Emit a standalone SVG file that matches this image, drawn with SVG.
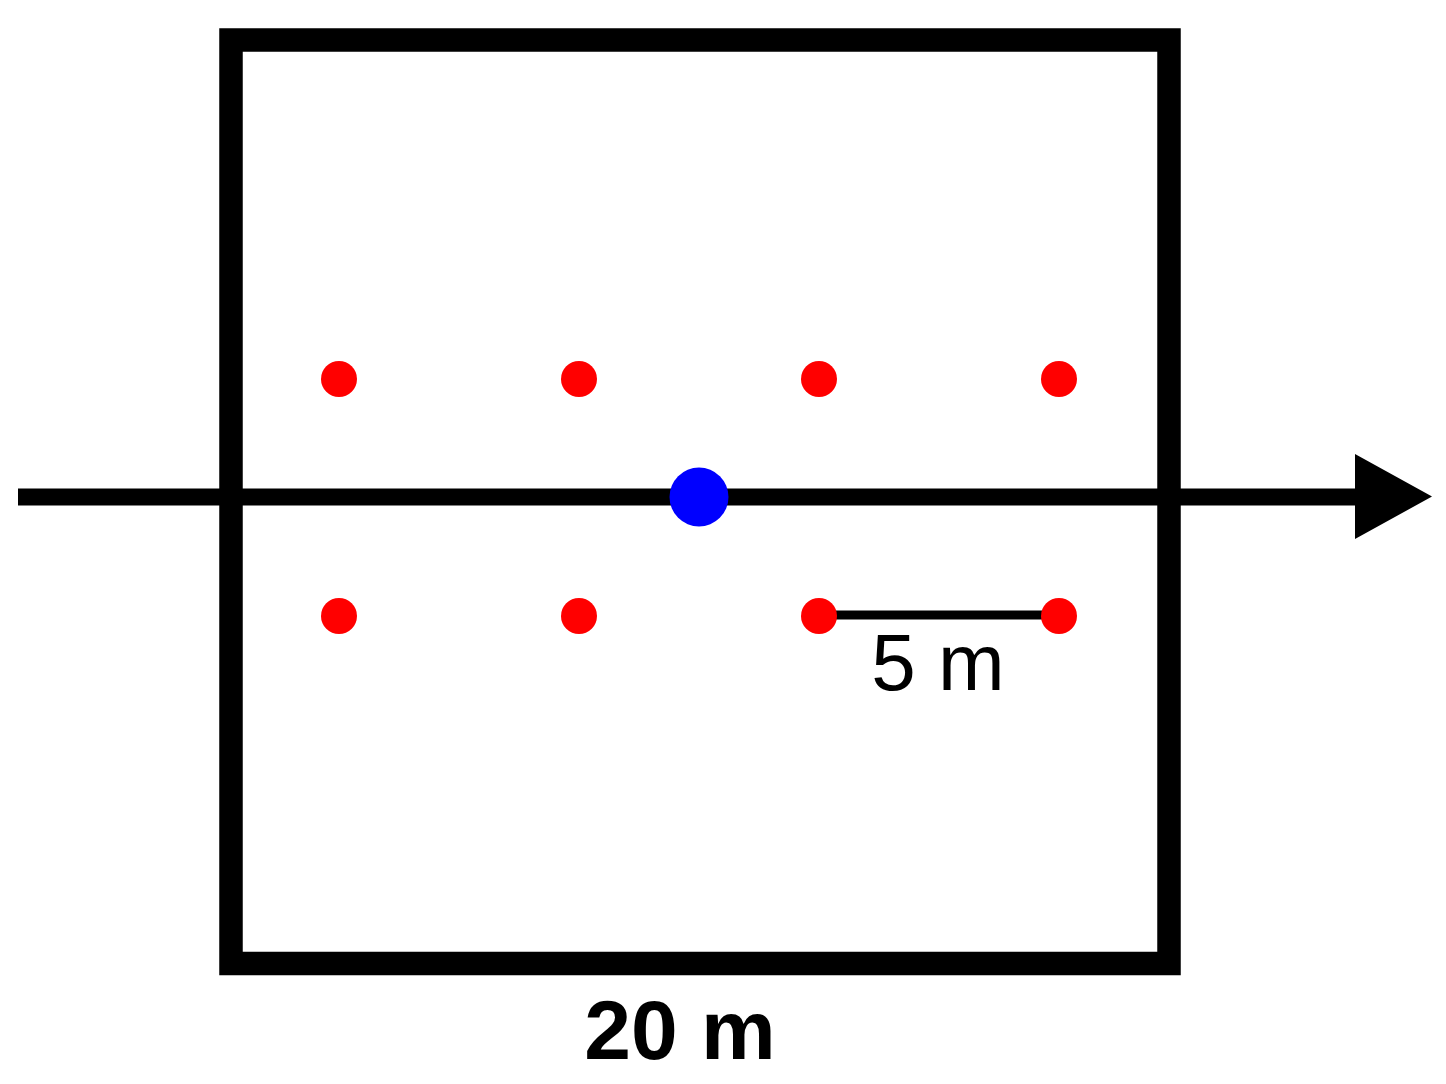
<svg xmlns="http://www.w3.org/2000/svg" width="1446" height="1084" viewBox="0 0 1446 1084">
<style>
.red{fill:#ff0000}
.lbl{font-family:"Liberation Sans",Arial,sans-serif;fill:#000}
</style>
<rect width="1446" height="1084" fill="#fff"/>
<g id="plot">
<rect x="231" y="40" width="938" height="923.5" fill="none" stroke="#000" stroke-width="23.5"/>
</g>
<g id="connectors">
<line x1="18" y1="497" x2="1360" y2="497" stroke="#000" stroke-width="17"/>
<polygon points="1355,454 1432,496.5 1355,539" fill="#000"/>
<line x1="819" y1="615" x2="1059" y2="615" stroke="#000" stroke-width="9"/>
</g>
<g id="points">
<circle class="red" cx="339" cy="379" r="18"/>
<circle class="red" cx="579" cy="379" r="18"/>
<circle class="red" cx="819" cy="379" r="18"/>
<circle class="red" cx="1059" cy="379" r="18"/>
<circle class="red" cx="339" cy="616" r="18"/>
<circle class="red" cx="579" cy="616" r="18"/>
<circle class="red" cx="819" cy="616" r="18"/>
<circle class="red" cx="1059" cy="616" r="18"/>
</g>
<g id="center">
<circle cx="699" cy="497" r="29.5" fill="#0000ff"/>
</g>
<text class="lbl" x="938" y="690" font-size="80" text-anchor="middle">5 m</text>
<text class="lbl" x="680" y="1059" font-size="84" font-weight="bold" text-anchor="middle">20 m</text>
</svg>
